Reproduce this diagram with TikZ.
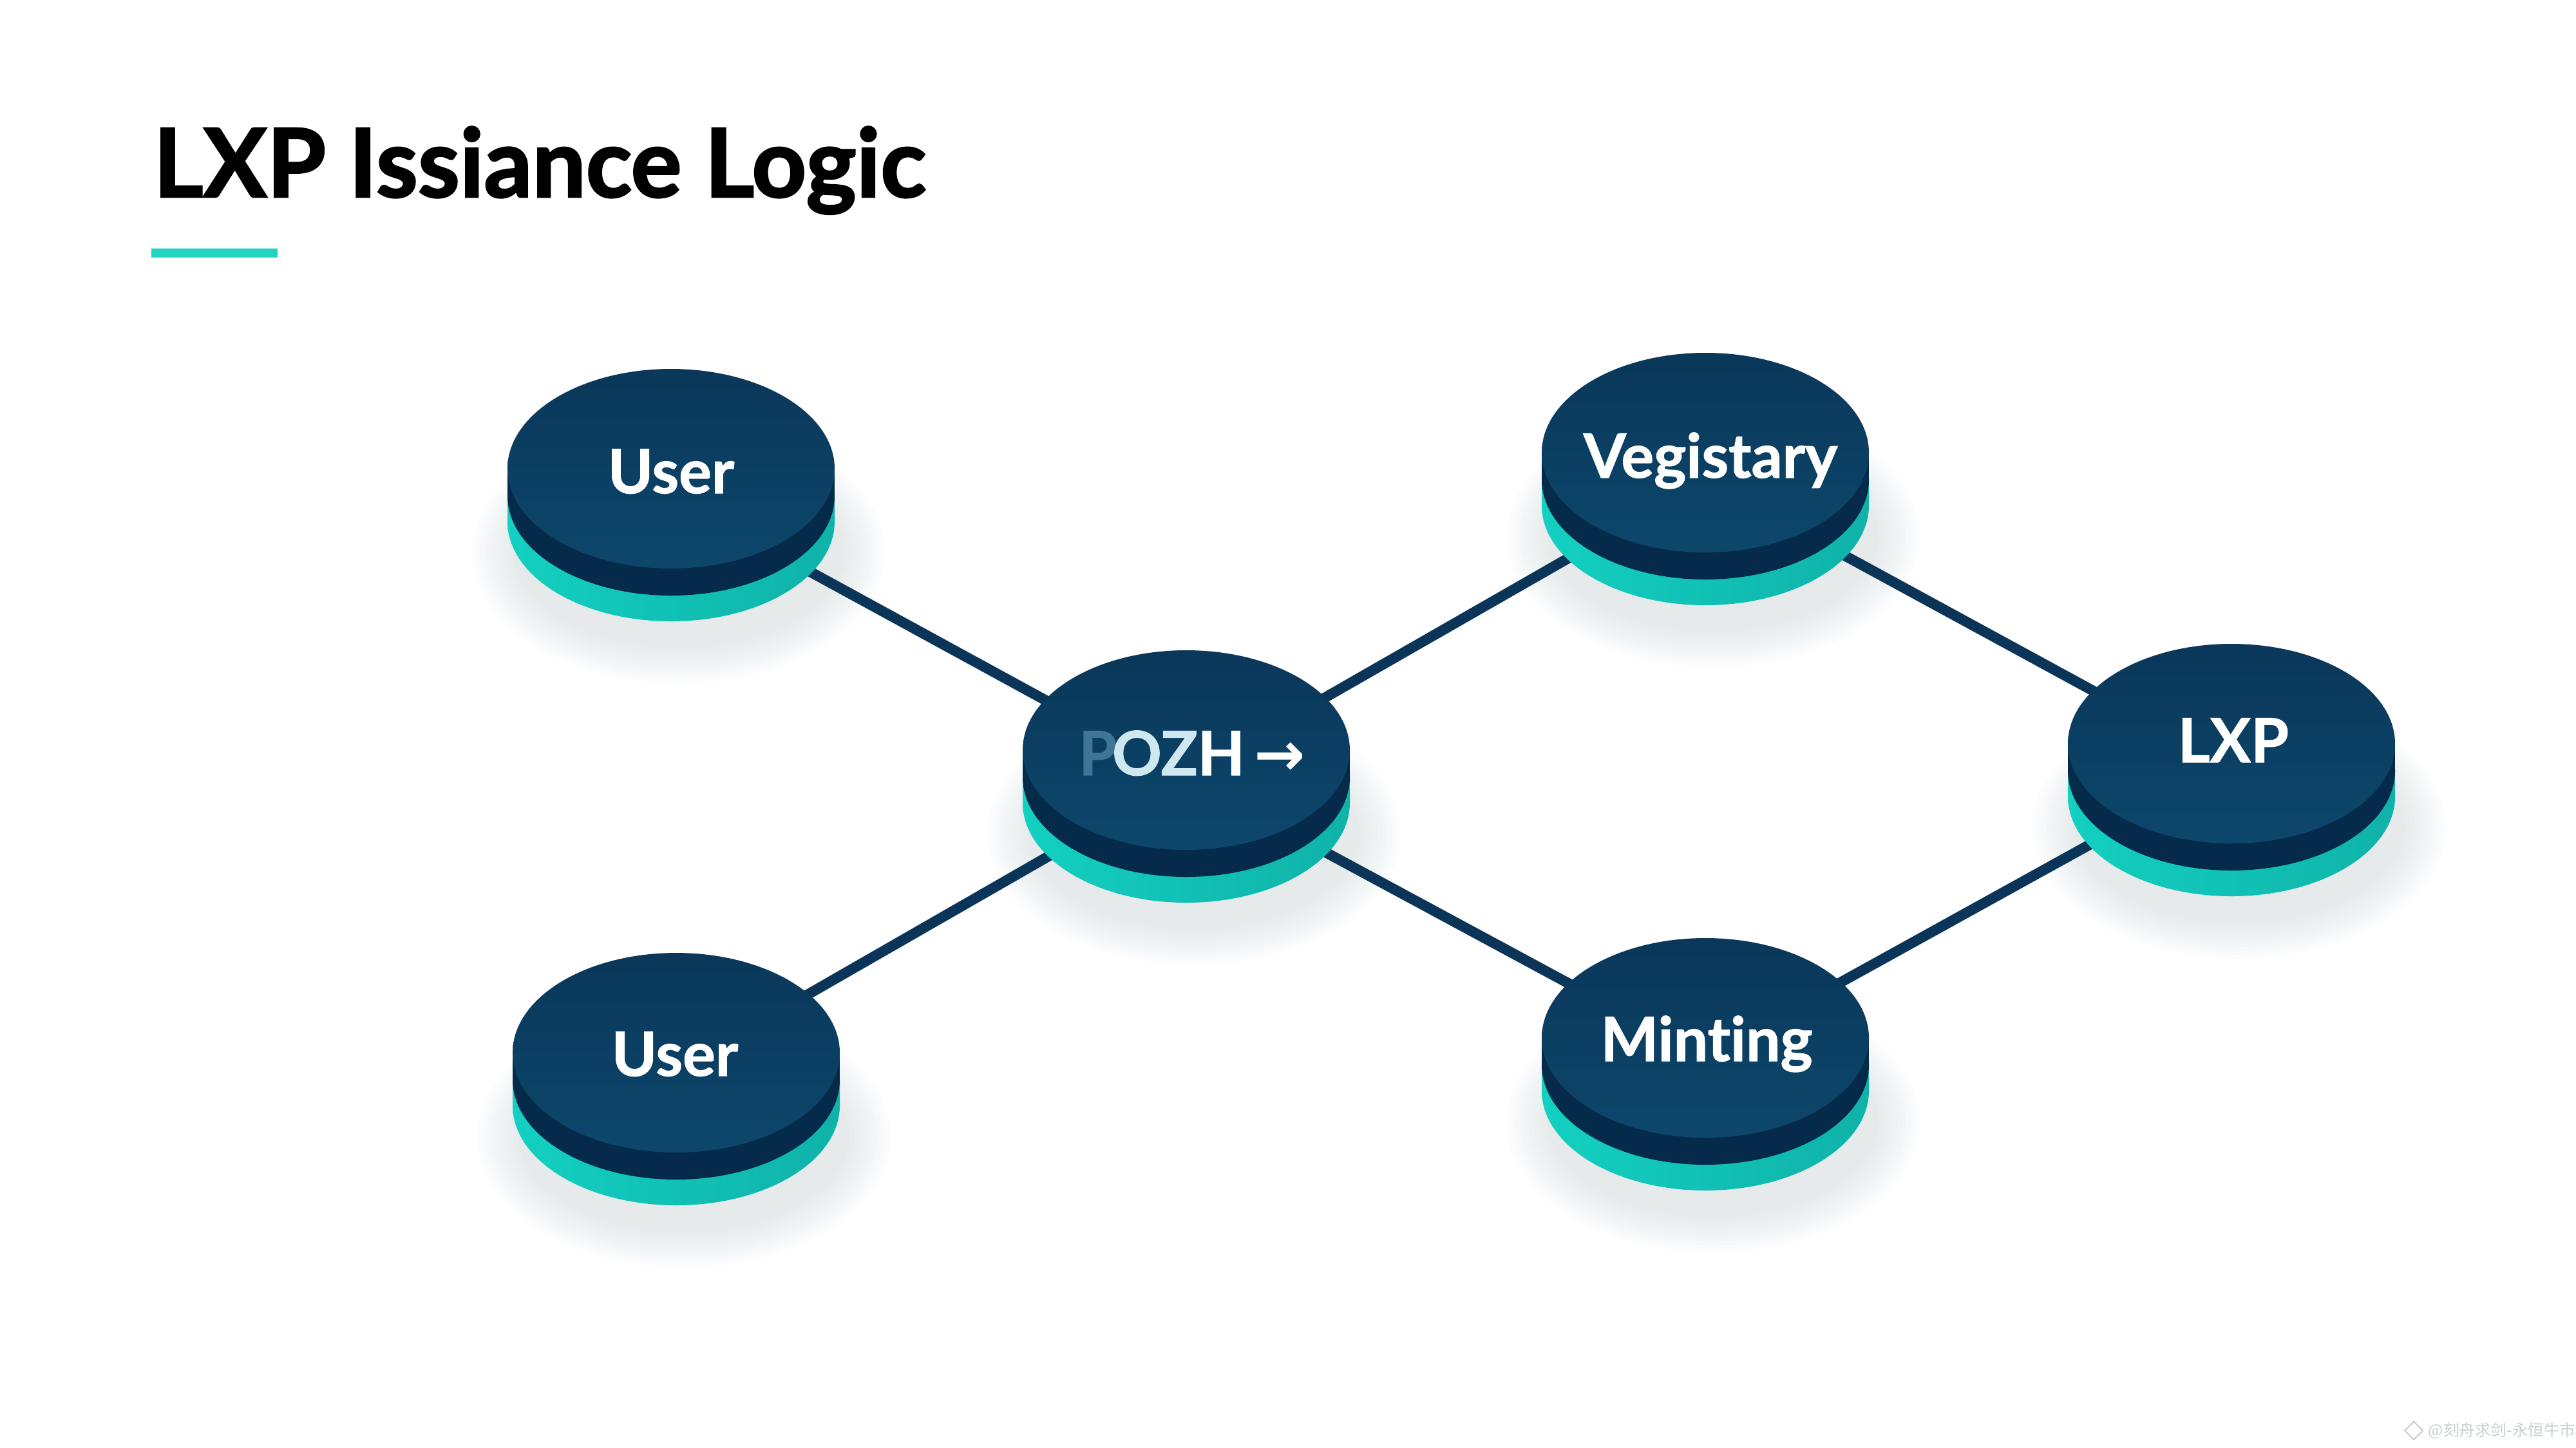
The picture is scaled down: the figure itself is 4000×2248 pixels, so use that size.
\documentclass[tikz,border=0pt]{standalone}
\usepackage{fontspec}
\setmainfont{Lato}[Ligatures=NoCommon,BoldFeatures={FakeBold=1.2}]
\newfontfamily\titlefont{Lato}[Ligatures=NoCommon,BoldFeatures={FakeBold=2}]
\newfontfamily\arrowfont{DejaVu Sans}
\newfontfamily\cjkfont{Noto Sans CJK SC}
\definecolor{faceA}{HTML}{0A375A}
\definecolor{faceB}{HTML}{0C476B}
\definecolor{sidec}{HTML}{052A4A}
\definecolor{tealA}{HTML}{13D0C1}
\definecolor{tealB}{HTML}{0FB2A8}
\definecolor{linec}{HTML}{0B3558}
\definecolor{accent}{HTML}{22D3C2}
\definecolor{shadowc}{HTML}{8A98A5}
\definecolor{fadedP}{HTML}{3F7595}
\definecolor{lightO}{HTML}{CFE8F0}
\definecolor{wmark}{HTML}{C9CED3}
\newcommand\drawshadow[2]{%
  \foreach \k in {0,...,9}{%
    \fill[shadowc,opacity=0.018] ({#1+12},{#2+130}) ellipse [x radius={258+7*\k}, y radius={150+6*\k}];}%
}
\newcommand\drawdisk[2]{%
  \shade[left color=tealA,right color=tealB] ({#1},{#2+82}) ellipse [x radius=254,y radius=155];
  \shade[left color=tealA,right color=tealB] ({#1-254},{#2+42}) rectangle ({#1+254},{#2+82});
  \fill[sidec] ({#1},{#2+42}) ellipse [x radius=254,y radius=155];
  \fill[sidec] ({#1-254},{#2}) rectangle ({#1+254},{#2+42});
  \shade[top color=faceA,bottom color=faceB] (#1,#2) ellipse [x radius=254,y radius=155];
}
\tikzset{
  conn/.style={draw=linec,line width=0.16cm},
  disklabel/.style={anchor=base,inner sep=0,text=white,font=\fontsize{27}{32}\selectfont\bfseries},
}
\begin{document}
\begin{tikzpicture}[x=0.01cm,y=-0.01cm]
\fill[white] (0,0) rectangle (4000,2248);
\useasboundingbox (0,0) rectangle (4000,2248);

% title
\node[anchor=base west,inner sep=0,text=black,font=\titlefont\fontsize{42}{48}\selectfont\bfseries] (title) at (238,306) {LXP Issiance Logic};
\fill[accent] (235,386) rectangle (431,400);

% shadows
\drawshadow{1042}{728}
\drawshadow{2648}{703}
\drawshadow{1842}{1165}
\drawshadow{3465}{1155}
\drawshadow{1050}{1635}
\drawshadow{2648}{1612}

% connector anchors
\coordinate (u1) at (1042,770);
\coordinate (vg) at (2648,745);
\coordinate (ct) at (1842,1207);
\coordinate (lx) at (3465,1190);
\coordinate (u2) at (1050,1662);
\coordinate (mt) at (2648,1642);

\draw[conn] (u1) -- (ct);
\draw[conn] (ct) -- (vg);
\draw[conn] (vg) -- (lx);
\draw[conn] (ct) -- (u2);
\draw[conn] (ct) -- (mt);
\draw[conn] (mt) -- (lx);

% disks
\drawdisk{1042}{728}
\drawdisk{2648}{703}
\drawdisk{1842}{1165}
\drawdisk{3465}{1155}
\drawdisk{1050}{1635}
\drawdisk{2648}{1612}

% labels
\node[disklabel] (lu1) at (1042,766) {User};
\node[disklabel] (lvg) at (2656,742) {Vegistary};
\node[disklabel] (lct) at (1851,1204) {{\color{fadedP}P}\kern-2pt{\color{lightO}OZ}H\kern4pt{\arrowfont →}};
\node[disklabel] (llx) at (3468,1184) {LXP};
\node[disklabel] (lu2) at (1048,1671) {User};
\node[disklabel] (lmt) at (2650,1648) {Minting};

% watermark
\node[anchor=west,inner sep=0,text=wmark,font=\cjkfont\fontsize{7}{8}\selectfont] (wm) at (3770,2222) {@刻舟求剑-永恒牛市};
\draw[wmark,line width=0.6pt] (3748,2208) -- (3762,2222) -- (3748,2236) -- (3734,2222) -- cycle;
\end{tikzpicture}
\end{document}
